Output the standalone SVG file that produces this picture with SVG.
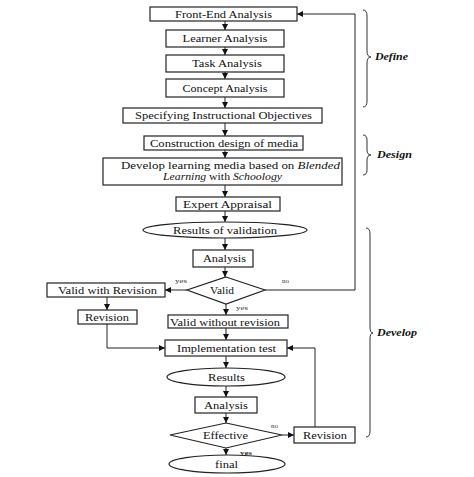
<svg xmlns="http://www.w3.org/2000/svg" width="474" height="477" viewBox="0 0 474 477">
<style>
.box{fill:#fff;stroke:#222;stroke-width:1.2}
.t{font-family:"Liberation Serif",serif;font-size:10px;fill:#111;text-anchor:middle}
.s{font-family:"Liberation Serif",serif;font-size:7px;fill:#333}
.ph{font-family:"Liberation Serif",serif;font-size:10px;font-style:italic;font-weight:bold;fill:#111}
.c{fill:none;stroke:#222;stroke-width:1}
.br{fill:none;stroke:#333;stroke-width:1}
</style>
<defs>
<marker id="a" viewBox="0 0 6 6" refX="6" refY="3" markerWidth="6" markerHeight="6" markerUnits="userSpaceOnUse" orient="auto">
<path d="M0,0 L6,3 L0,6 Z" fill="#111"/>
</marker>
</defs>
<rect width="474" height="477" fill="#fff"/>
<g id="connectors">
<path class="c" d="M225,21 V30" marker-end="url(#a)"/>
<path class="c" d="M225,47 V55" marker-end="url(#a)"/>
<path class="c" d="M225,72 V79" marker-end="url(#a)"/>
<path class="c" d="M225,97 V108" marker-end="url(#a)"/>
<path class="c" d="M225,123 V136" marker-end="url(#a)"/>
<path class="c" d="M225,150 V158" marker-end="url(#a)"/>
<path class="c" d="M225,185 V197" marker-end="url(#a)"/>
<path class="c" d="M225,211 V222" marker-end="url(#a)"/>
<path class="c" d="M225,238 V250" marker-end="url(#a)"/>
<path class="c" d="M225,267 V277" marker-end="url(#a)"/>
<path class="c" d="M187,290 H165" marker-end="url(#a)"/>
<path class="c" d="M265,290 H355 V14 H297" marker-end="url(#a)"/>
<path class="c" d="M226,304 V315" marker-end="url(#a)"/>
<path class="c" d="M107,297 V310" marker-end="url(#a)"/>
<path class="c" d="M107,324 V348 H165" marker-end="url(#a)"/>
<path class="c" d="M226,328 V340" marker-end="url(#a)"/>
<path class="c" d="M226,356 V368" marker-end="url(#a)"/>
<path class="c" d="M226,386 V397" marker-end="url(#a)"/>
<path class="c" d="M226,413 V423" marker-end="url(#a)"/>
<path class="c" d="M282,435 H294" marker-end="url(#a)"/>
<path class="c" d="M315,427 V348 H287" marker-end="url(#a)"/>
<path class="c" d="M226,448 V455" marker-end="url(#a)"/>
<text class="s" x="175" y="283" textLength="12" lengthAdjust="spacingAndGlyphs">yes</text>
<text class="s" x="282" y="283">no</text>
<text class="s" x="236" y="310" textLength="12" lengthAdjust="spacingAndGlyphs">yes</text>
<text class="s" x="271" y="428">no</text>
<text class="s" x="240" y="455" font-weight="bold" textLength="12" lengthAdjust="spacingAndGlyphs">yes</text>
</g>
<g id="n1"><rect class="box" x="150" y="7" width="147" height="14"/><text class="t" x="223.5" y="18" textLength="97" lengthAdjust="spacingAndGlyphs">Front-End Analysis</text></g>
<g id="n2"><rect class="box" x="166" y="30" width="118" height="17"/><text class="t" x="225" y="42" textLength="85" lengthAdjust="spacingAndGlyphs">Learner Analysis</text></g>
<g id="n3"><rect class="box" x="166" y="55" width="118" height="17"/><text class="t" x="227" y="67" textLength="70" lengthAdjust="spacingAndGlyphs">Task Analysis</text></g>
<g id="n4"><rect class="box" x="166" y="79" width="118" height="18"/><text class="t" x="225" y="92" textLength="85" lengthAdjust="spacingAndGlyphs">Concept Analysis</text></g>
<g id="n5"><rect class="box" x="123" y="108" width="199" height="15"/><text class="t" x="223.5" y="119" textLength="177" lengthAdjust="spacingAndGlyphs">Specifying Instructional Objectives</text></g>
<g id="n6"><rect class="box" x="144" y="136" width="159" height="14"/><text class="t" x="224" y="147" textLength="148" lengthAdjust="spacingAndGlyphs">Construction design of media</text></g>
<g id="n7"><rect class="box" x="103" y="158" width="239" height="27"/><text class="t" x="230.5" y="169" textLength="219" lengthAdjust="spacingAndGlyphs">Develop learning media based on <tspan font-style="italic">Blended</tspan></text><text class="t" x="222.5" y="180" textLength="119" lengthAdjust="spacingAndGlyphs"><tspan font-style="italic">Learning</tspan> with <tspan font-style="italic">Schoology</tspan></text></g>
<g id="n8"><rect class="box" x="176" y="197" width="104" height="14"/><text class="t" x="227.5" y="208" textLength="89" lengthAdjust="spacingAndGlyphs">Expert Appraisal</text></g>
<g id="n9"><ellipse class="box" cx="225" cy="230" rx="82" ry="8"/><text class="t" x="225" y="233.5" textLength="104" lengthAdjust="spacingAndGlyphs">Results of validation</text></g>
<g id="n10"><rect class="box" x="193" y="250" width="60" height="17"/><text class="t" x="224.5" y="262" textLength="43" lengthAdjust="spacingAndGlyphs">Analysis</text></g>
<g id="n11"><path class="box" d="M226,277 L265,290 L226,304 L187,290 Z"/><text class="t" x="222" y="293.5" textLength="24" lengthAdjust="spacingAndGlyphs">Valid</text></g>
<g id="n12"><rect class="box" x="47" y="283" width="118" height="14"/><text class="t" x="107.5" y="294" textLength="99" lengthAdjust="spacingAndGlyphs">Valid with Revision</text></g>
<g id="n13"><rect class="box" x="78" y="310" width="59" height="14"/><text class="t" x="107" y="321" textLength="44" lengthAdjust="spacingAndGlyphs">Revision</text></g>
<g id="n14"><rect class="box" x="168" y="315" width="120" height="13"/><text class="t" x="225" y="325.5" textLength="110" lengthAdjust="spacingAndGlyphs">Valid without revision</text></g>
<g id="n15"><rect class="box" x="165" y="340" width="122" height="16"/><text class="t" x="226.5" y="351.5" textLength="99" lengthAdjust="spacingAndGlyphs">Implementation test</text></g>
<g id="n16"><ellipse class="box" cx="226" cy="377" rx="59" ry="9"/><text class="t" x="226.5" y="380.5" textLength="37" lengthAdjust="spacingAndGlyphs">Results</text></g>
<g id="n17"><rect class="box" x="195" y="397" width="62" height="16"/><text class="t" x="226" y="408.5" textLength="44" lengthAdjust="spacingAndGlyphs">Analysis</text></g>
<g id="n18"><path class="box" d="M226,423 L282,435 L226,448 L170,435 Z"/><text class="t" x="225.5" y="438.5" textLength="45" lengthAdjust="spacingAndGlyphs">Effective</text></g>
<g id="n19"><rect class="box" x="294" y="427" width="61" height="16"/><text class="t" x="325" y="438.5" textLength="44" lengthAdjust="spacingAndGlyphs">Revision</text></g>
<g id="n20"><ellipse class="box" cx="227" cy="464" rx="58" ry="9"/><text class="t" x="226.5" y="467.5" textLength="23" lengthAdjust="spacingAndGlyphs">final</text></g>
<g id="phases">
<path class="br" d="M363,10 Q367,10 367,16 V51 Q367,57 371,57 Q367,57 367,63 V101 Q367,107 363,107"/>
<text class="ph" x="375" y="60" textLength="33" lengthAdjust="spacingAndGlyphs">Define</text>
<path class="br" d="M363,135 Q367,135 367,140 V150 Q367,155 371,155 Q367,155 367,160 V170 Q367,175 363,175"/>
<text class="ph" x="377" y="158" textLength="35" lengthAdjust="spacingAndGlyphs">Design</text>
<path class="br" d="M366,228 Q370,228 370,234 V327 Q370,333 373,333 Q370,333 370,339 V431 Q370,437 366,437"/>
<text class="ph" x="377" y="336" textLength="40" lengthAdjust="spacingAndGlyphs">Develop</text>
</g>
</svg>
